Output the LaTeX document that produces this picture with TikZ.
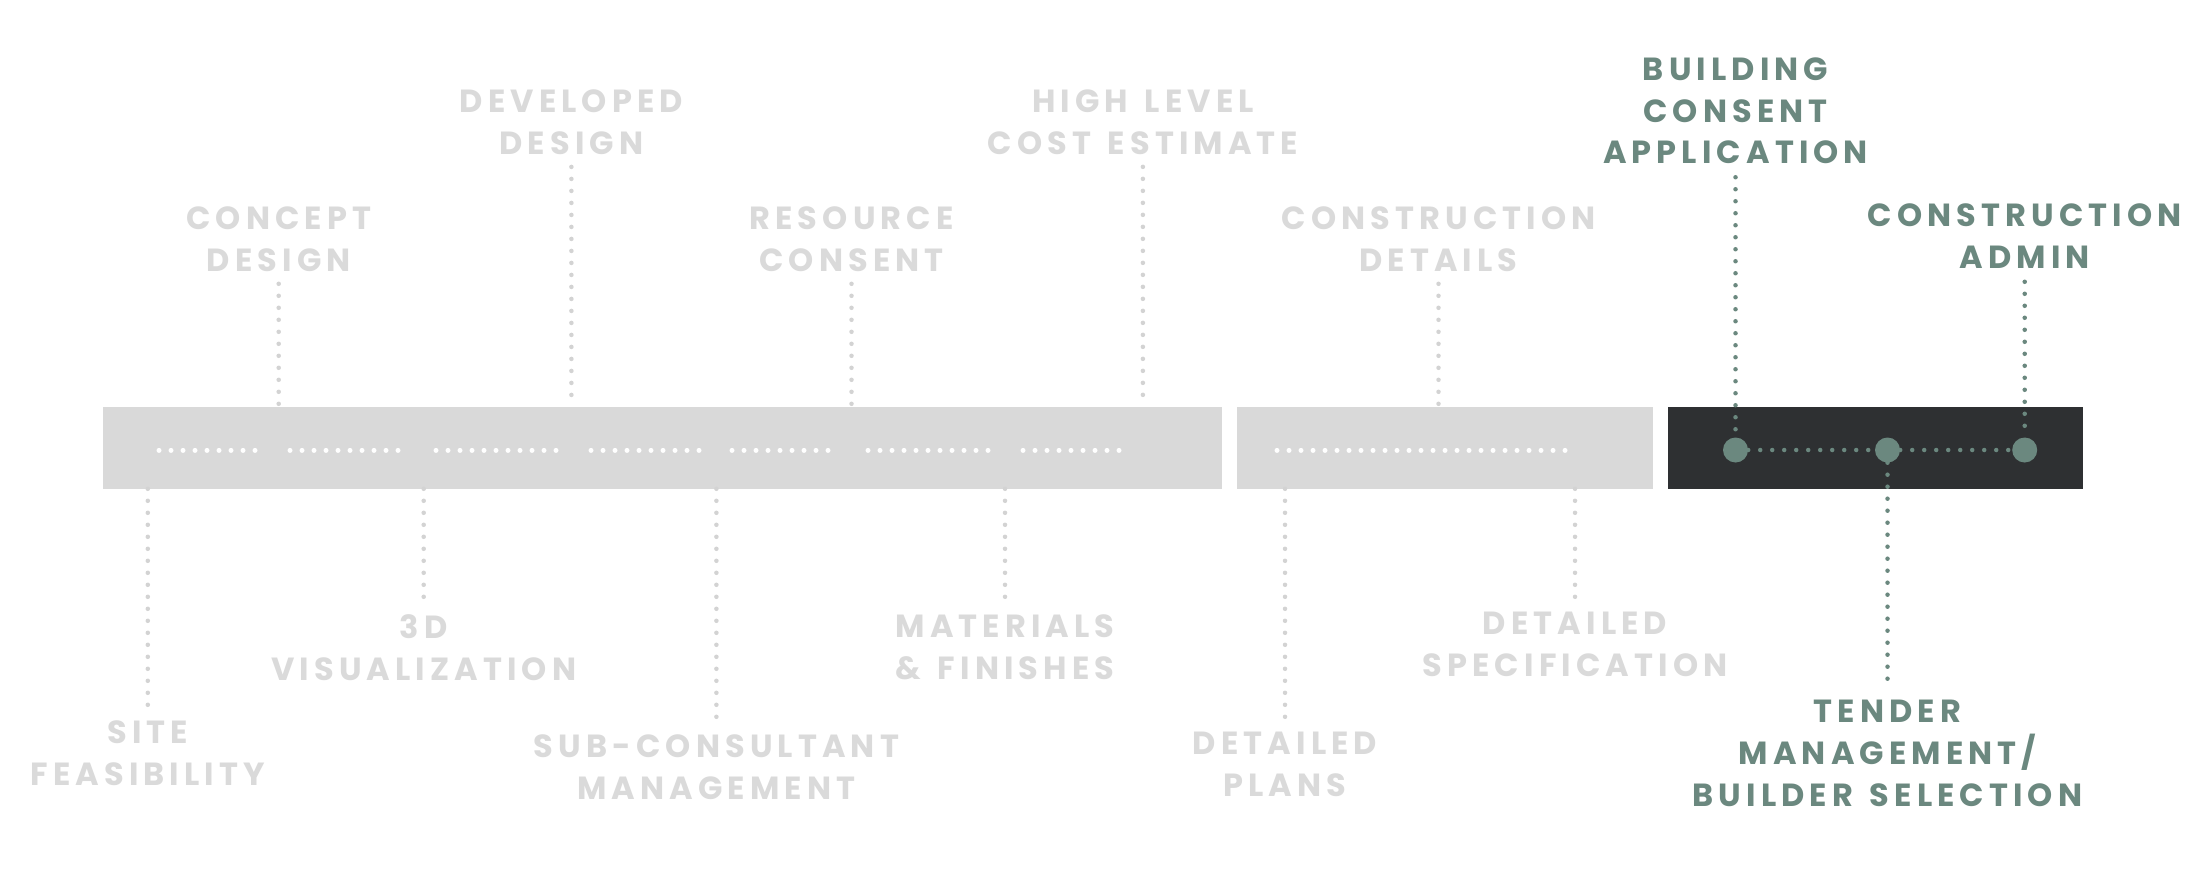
\documentclass[tikz,border=0pt]{standalone}
\usepackage{fontspec}
\setmainfont{Poppins}
\newfontfamily\labfont[LetterSpace=16,WordSpace=1.4]{Poppins}
\definecolor{lgbar}{HTML}{D9D9D9}
\definecolor{lgtext}{HTML}{DADADA}
\definecolor{dotg}{HTML}{D3D3D3}
\definecolor{darkbar}{HTML}{2E3032}
\definecolor{sage}{HTML}{6B887F}
\tikzset{
  lab/.style={align=center, inner sep=0pt, anchor=north, text=lgtext,
    font=\labfont\bfseries\fontsize{32}{41.7}\selectfont},
  glab/.style={lab, text=sage},
  barbox/.style={rectangle, inner sep=0pt, anchor=north west, minimum height=81.6pt, draw=none},
  gdot/.style={draw=dotg, line width=4.5pt, line cap=round, dash pattern=on 0pt off 12pt},
  wdot/.style={gdot, draw=white, line width=5pt},
  sdot/.style={gdot, draw=sage},
  stage/.style={circle, fill=sage, inner sep=0pt, minimum size=25pt}
}
\begin{document}
\begin{tikzpicture}[x=1pt,y=-1pt]
\useasboundingbox[fill=white] (0,0) rectangle (2207,883);
% bars
\node[barbox, fill=lgbar, minimum width=1118.9pt] (bar1) at (102.8,406.8) {};
\node[barbox, fill=lgbar, minimum width=415.2pt] (bar2) at (1237.2,406.8) {};
\node[barbox, fill=darkbar, minimum width=415.2pt] (bar3) at (1667.9,406.8) {};
% white dots inside bars
\foreach \a/\b in {159/262, 290/408, 436/559, 591/704, 732/837, 868/992, 1023/1126, 1277/1569}
  \draw[wdot] (\a,450.4) -- (\b,450.4);
% top labels
\node[lab] (concept) at (278.7,206.7) {CONCEPT\\DESIGN};
\node[lab] (developed) at (571.4,89.8) {DEVELOPED\\DESIGN};
\node[lab] (resource) at (851.5,206.7) {RESOURCE\\CONSENT};
\node[lab] (highlevel) at (1142.9,89.8) {HIGH LEVEL\\COST ESTIMATE};
\node[lab] (cdetails) at (1438.5,206.7) {CONSTRUCTION\\DETAILS};
\node[glab] (bca) at (1735.5,57.5) {BUILDING\\CONSENT\\APPLICATION};
\node[glab] (cadmin) at (2024.7,203.9) {CONSTRUCTION\\ADMIN};
% bottom labels
\node[lab] (site) at (147.8,720.4) {SITE\\FEASIBILITY};
\node[lab] (viz) at (423.7,614.8) {3D\\VISUALIZATION};
\node[lab] (sub) at (716.4,734.5) {SUB-CONSULTANT\\MANAGEMENT};
\node[lab] (materials) at (1005,614.8) {MATERIALS\\\& FINISHES};
\node[lab] (plans) at (1285,731.7) {DETAILED\\PLANS};
\node[lab] (spec) at (1575,612) {DETAILED\\SPECIFICATION};
\node[glab] (tender) at (1887.5,700) {TENDER\\MANAGEMENT/\\BUILDER SELECTION};
% gray connectors
\foreach \n in {concept, developed, resource, highlevel}
  \draw[gdot] ([yshift=-12pt]\n.south) -- (\n.south |- bar1.north);
\draw[gdot] ([yshift=-12pt]cdetails.south) -- (cdetails.south |- bar2.north);
\foreach \n in {site, viz, sub, materials}
  \draw[gdot] (\n.north |- bar1.south) -- ([yshift=10pt]\n.north);
\foreach \n in {plans, spec}
  \draw[gdot] (\n.north |- bar2.south) -- ([yshift=10pt]\n.north);
% stage circles
\node[stage] (c1) at (1735.5,450) {};
\node[stage] (c2) at (1887.5,450) {};
\node[stage] (c3) at (2024.7,450) {};
% green connectors
\draw[sdot] ([yshift=-13pt]bca.south) -- (c1);
\draw[sdot] ([yshift=-13pt]cadmin.south) -- (c3);
\draw[sdot] (c1) -- (c2);
\draw[sdot] (c2) -- (c3);
\draw[sdot] (c2) -- ([yshift=10pt]tender.north);
\end{tikzpicture}
\end{document}
